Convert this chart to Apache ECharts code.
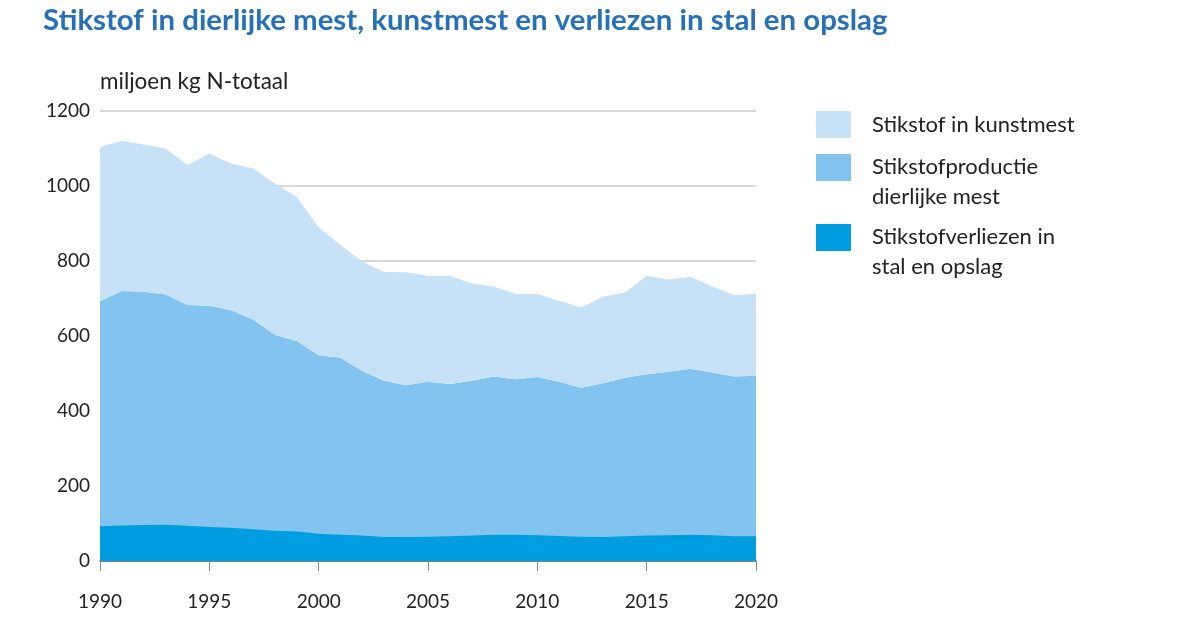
<!DOCTYPE html>
<html lang="nl">
<head>
    <meta charset="UTF-8">
    <title>Stikstof in dierlijke mest</title>
    <script src="https://cdn.jsdelivr.net/npm/echarts@6/dist/echarts.min.js"></script>
</head>
<body style="margin:0">
<div id="chart" style="width:1200px;height:630px"></div>
<script>
    // jaren en waarden (miljoen kg N)
    var years = [];
    for (var y = 1990; y <= 2020; y++) years.push(String(y));

    var dierlijkeMest = [693, 720, 718, 711, 683, 681, 669, 644, 603, 587, 549, 542, 507, 481, 469, 478,
        472, 481, 492, 485, 491, 478, 462, 474, 489, 498, 505, 513, 503, 492, 494];
    var kunstmest = [412, 401, 393, 389, 373, 406, 391, 403, 404, 384, 341, 301, 291, 290, 301, 283,
        289, 259, 240, 227, 221, 216, 214, 231, 227, 263, 246, 245, 230, 217, 219];
    var verliezen = [93, 95, 96, 97, 94, 91, 89, 85, 81, 79, 73, 70, 68, 64, 64, 65,
        66, 68, 70, 70, 69, 67, 65, 64, 66, 68, 69, 70, 69, 66, 66];

    var names = ['Stikstof in kunstmest', 'Stikstofproductie dierlijke mest', 'Stikstofverliezen in stal en opslag'];
    // hoe de legendanamen worden afgebroken
    var legendLines = [
        ['Stikstof in kunstmest'],
        ['Stikstofproductie', 'dierlijke mest'],
        ['Stikstofverliezen in', 'stal en opslag']
    ];
    var colors = ['#c7e2f7', '#83c3ef', '#009ee0'];
    var font = 'Lato, "Open Sans", sans-serif';

    var chart = echarts.init(document.getElementById('chart'));

    function legendItem(i, top) {
        var lines = legendLines[i];
        return {
            data: [names[i]],
            left: 816,
            top: top,
            padding: 0,
            itemWidth: 35,
            itemHeight: 27,
            icon: 'rect',
            selectedMode: false,
            formatter: function () {
                var out = lines.map(function (l) { return '{t|' + l + '}'; }).join('\n');
                // lege regel bovenaan zodat de tekst naar beneden schuift
                if (lines.length > 1) out = '{s|}\n' + out;
                return out;
            },
            textStyle: {
                rich: {
                    t: {fontFamily: font, fontSize: 22, color: '#222', lineHeight: 30, padding: [0, 0, 0, 16]},
                    s: {fontSize: 1, lineHeight: 28}
                }
            }
        };
    }

    var option = {
        backgroundColor: '#fff',
        animation: false,
        title: {
            text: 'Stikstof in dierlijke mest, kunstmest en verliezen in stal en opslag',
            left: 38,
            top: 1,
            textStyle: {
                fontFamily: font,
                fontWeight: 'bold',
                fontSize: 29.4,
                color: '#2670b9'
            }
        },
        legend: [
            legendItem(0, 111),
            legendItem(1, 137),
            legendItem(2, 207)
        ],
        grid: {left: 100, right: 444, top: 111, bottom: 69},
        xAxis: {
            type: 'category',
            data: years,
            boundaryGap: false,
            axisLine: {lineStyle: {color: '#666', width: 1.5}},
            axisTick: {interval: 4, length: 10, lineStyle: {color: '#888'}},
            axisLabel: {interval: 4, margin: 31, fontFamily: font, fontSize: 19, color: '#222'}
        },
        yAxis: {
            type: 'value',
            min: 0,
            max: 1200,
            interval: 200,
            name: 'miljoen kg N-totaal',
            nameLocation: 'end',
            nameGap: 18,
            nameTextStyle: {align: 'left', fontFamily: font, fontSize: 22.5, color: '#222'},
            axisLine: {show: false},
            axisTick: {show: false},
            axisLabel: {
                margin: 10, fontFamily: font, fontSize: 19, color: '#222',
                formatter: function (v) { return String(v); }
            },
            splitLine: {lineStyle: {color: '#ccc', width: 1.5}}
        },
        series: [
            {
                name: names[1],
                type: 'line',
                stack: 'totaal',
                data: dierlijkeMest,
                symbol: 'none',
                lineStyle: {width: 0},
                itemStyle: {color: colors[1]},
                areaStyle: {color: colors[1], opacity: 1}
            },
            {
                name: names[0],
                type: 'line',
                stack: 'totaal',
                data: kunstmest,
                symbol: 'none',
                lineStyle: {width: 0},
                itemStyle: {color: colors[0]},
                areaStyle: {color: colors[0], opacity: 1}
            },
            {
                name: names[2],
                type: 'line',
                data: verliezen,
                symbol: 'none',
                lineStyle: {width: 0},
                itemStyle: {color: colors[2]},
                areaStyle: {color: colors[2], opacity: 1}
            }
        ]
    };

    chart.setOption(option);
</script>
</body>
</html>
